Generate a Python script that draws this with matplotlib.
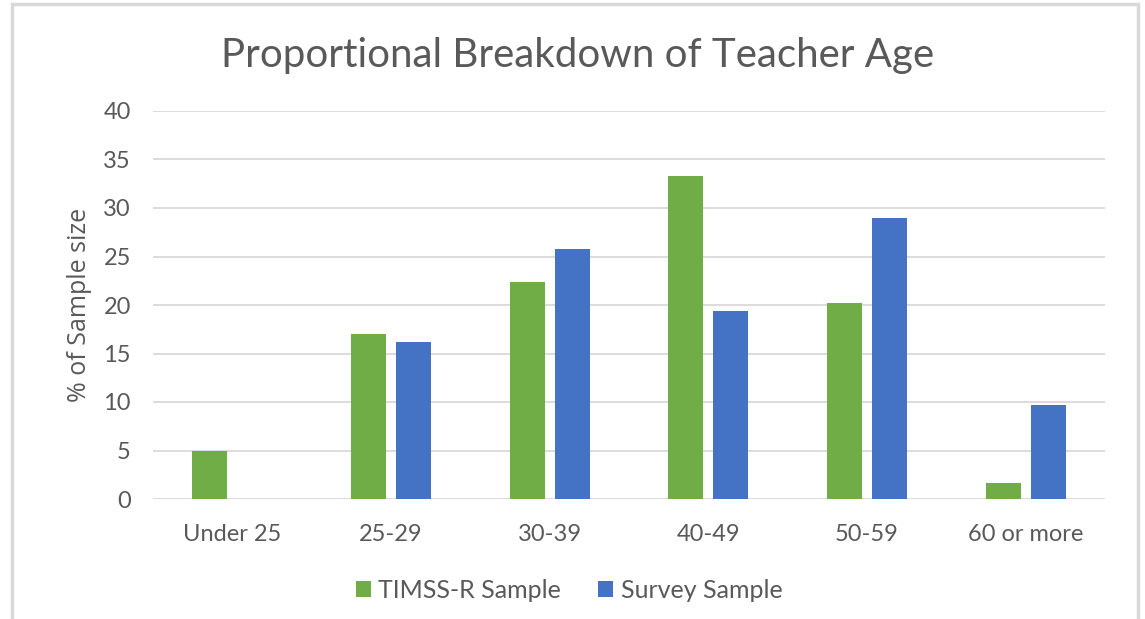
import numpy as np
import matplotlib.pyplot as plt
from matplotlib.patches import Rectangle

# datos
categorias = ["Under 25", "25-29", "30-39", "40-49", "50-59", "60 or more"]
timss = [5.0, 17.0, 22.4, 33.3, 20.2, 1.7]
survey = [0.0, 16.2, 25.8, 19.4, 29.0, 9.7]

verde = "#70AD47"
azul = "#4472C4"
gris_texto = "#595959"
gris_linea = "#D9D9D9"

plt.rcParams["font.family"] = ["Lato", "DejaVu Sans"]

fig = plt.figure(figsize=(11.45, 6.19), dpi=100)
ax = fig.add_axes([153 / 1145, 1 - 499 / 619, (1105 - 153) / 1145, (499 - 111) / 619])

x = np.arange(len(categorias))
ancho = 0.22
ax.bar(x - 0.142, timss, ancho, color=verde, label="TIMSS-R Sample", zorder=3)
ax.bar(x + 0.142, survey, ancho, color=azul, label="Survey Sample", zorder=3)

ax.set_xlim(-0.5, len(categorias) - 0.5)
ax.set_ylim(0, 40)
ax.set_yticks(range(0, 41, 5))
ax.set_xticks(x)
ax.set_xticklabels(categorias)
ax.grid(axis="y", color=gris_linea, linewidth=1.3, zorder=0)
for s in ax.spines.values():
    s.set_visible(False)
ax.tick_params(length=0, labelsize=17, colors=gris_texto)
ax.tick_params(axis="y", pad=16)
ax.tick_params(axis="x", pad=18)

ax.set_ylabel("% of Sample size", fontsize=18, color=gris_texto,
              family=["Open Sans", "DejaVu Sans"], labelpad=8)

fig.text(0.504, 1 - 56 / 619, "Proportional Breakdown of Teacher Age",
         ha="center", va="center", fontsize=29, color=gris_texto)

fig.legend(loc="center", bbox_to_anchor=(0.497, 1 - 590 / 619), ncol=2, frameon=False,
           fontsize=18, labelcolor=gris_texto, handlelength=0.6, handleheight=0.6,
           handletextpad=0.3, columnspacing=1.5)

# borde del gráfico
fig.patches.append(Rectangle((12 / 1145, -0.05), (1138 - 12) / 1145, 1.05 - 3.5 / 619,
                             transform=fig.transFigure, fill=False,
                             edgecolor=gris_linea, linewidth=2.5))

fig.savefig("out.png", dpi=100)
